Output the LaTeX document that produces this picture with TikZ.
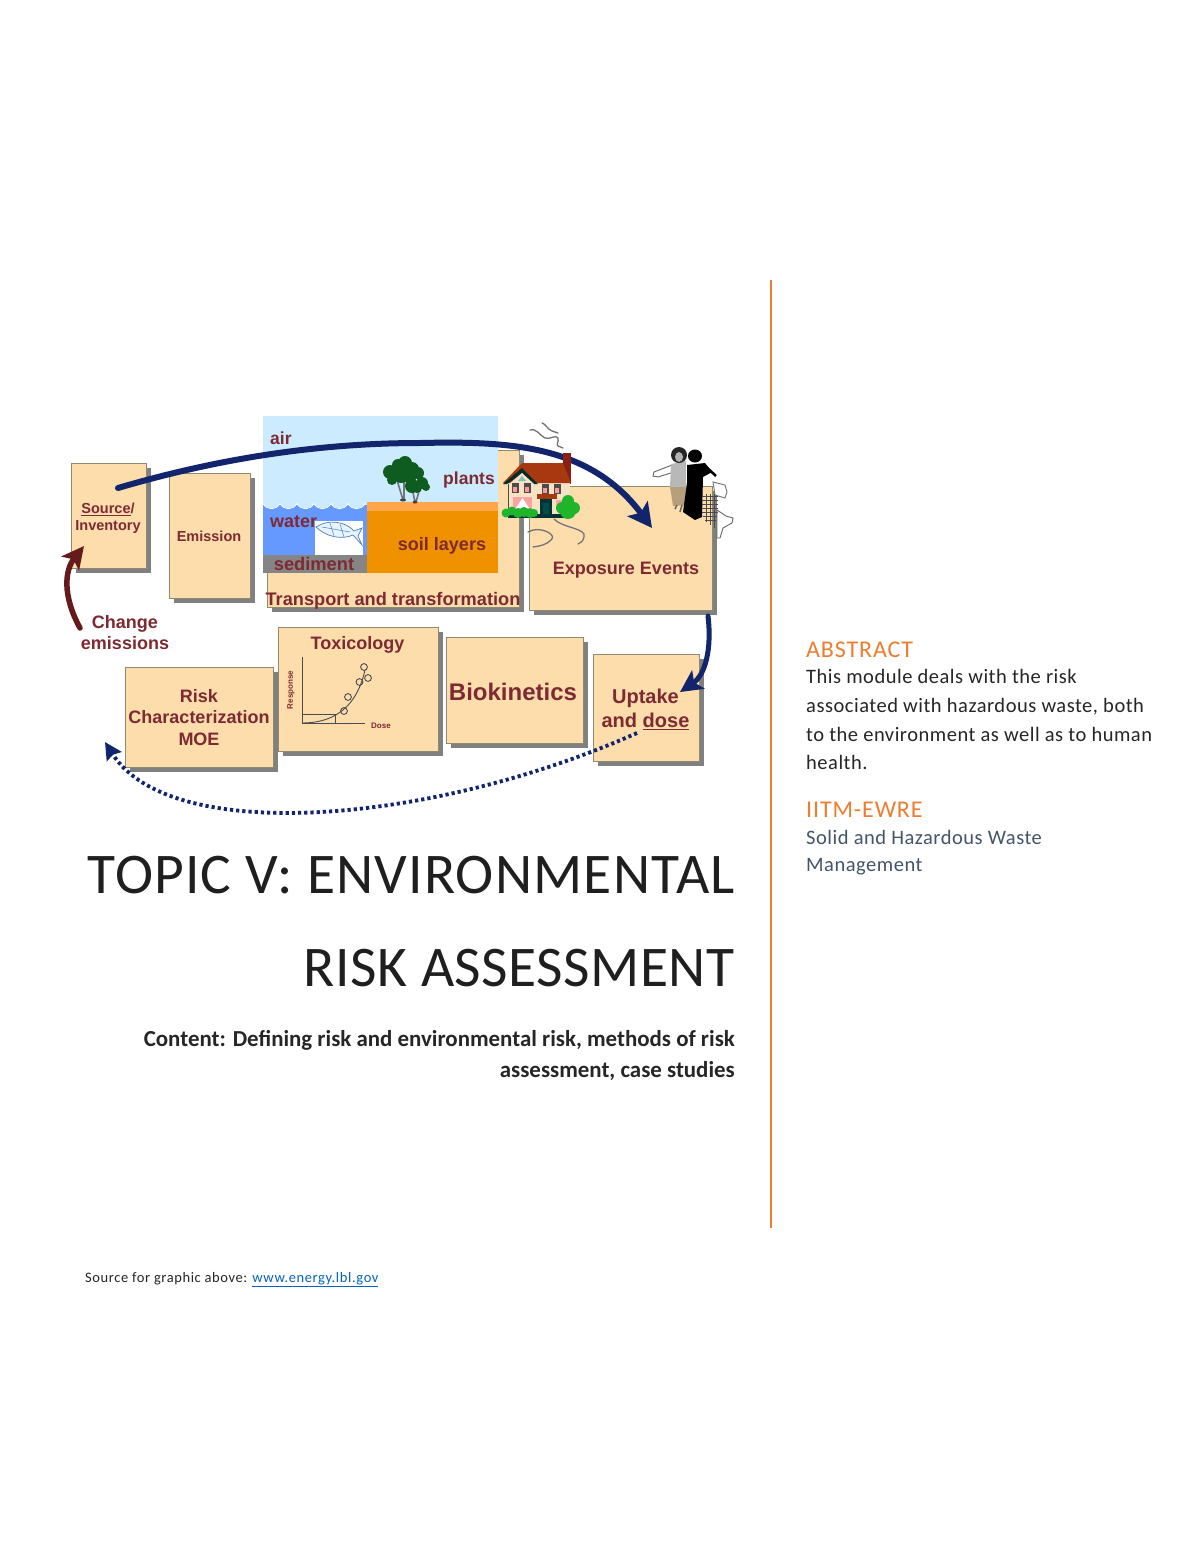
\documentclass[tikz,border=0pt]{standalone}
\usepackage{fontspec}
\setmainfont{Carlito}
\newfontfamily\imgfont{Liberation Sans}
\newfontfamily\cbodyfont[LetterSpace=2.5]{Carlito}
\newfontfamily\cheadfont[LetterSpace=3.6]{Carlito}
\newfontfamily\cnotefont[LetterSpace=4.1]{Carlito}
\newfontfamily\ctitleafont[LetterSpace=2.05]{Carlito}
\newfontfamily\ctitlebfont[LetterSpace=0.95]{Carlito}
\usetikzlibrary{arrows.meta,shadows}
\definecolor{boxfill}{HTML}{FDDDAB}
\definecolor{boxline}{HTML}{8F8A70}
\definecolor{shade}{HTML}{808080}
\definecolor{maroon}{HTML}{7D2A33}
\definecolor{darkred}{HTML}{651A1C}
\definecolor{navy}{HTML}{12246B}
\definecolor{sky}{HTML}{CCEBFF}
\definecolor{waterblue}{HTML}{6699FF}
\definecolor{soil}{HTML}{F09100}
\definecolor{soiltop}{HTML}{FFA64D}
\definecolor{orangeline}{HTML}{ED7D31}
\definecolor{slate}{HTML}{44546A}
\definecolor{linkblue}{HTML}{0563C1}
\definecolor{treegreen}{HTML}{0F5C20}
\definecolor{bushgreen}{HTML}{1FB52A}
\definecolor{roof}{HTML}{A8380F}
\definecolor{chimney}{HTML}{8A1F14}
\definecolor{wall}{HTML}{F7E3C4}
\tikzset{
  x=1pt,y=-1pt,
  imgbox/.style={draw=boxline,line width=1pt,fill=boxfill,inner sep=0pt,align=center,text=maroon,
    general shadow={shadow xshift=5pt,shadow yshift=-5pt,fill=shade}},
  lbl/.style={text=maroon,inner sep=0pt,align=center,font=\imgfont\bfseries\fontsize{#1}{#1}\selectfont\setlength{\baselineskip}{1.18em}},
  lbl/.default=18,
  titlea/.style={anchor=base east,inner sep=0pt,text=black!88,font=\ctitleafont\fontsize{57.5}{60}\selectfont},
  titleb/.style={anchor=base east,inner sep=0pt,text=black!88,font=\ctitlebfont\fontsize{57.5}{60}\selectfont},
  subtitle/.style={anchor=base east,inner sep=0pt,text=black!85,font=\bfseries\fontsize{22.9}{28}\selectfont},
  sidehead/.style={anchor=base west,inner sep=0pt,text=orangeline,font=\cheadfont\fontsize{24}{28}\selectfont},
  sidebody/.style={anchor=base west,inner sep=0pt,text=black!85,font=\cbodyfont\fontsize{20.5}{24}\selectfont},
  sideslate/.style={anchor=base west,inner sep=0pt,text=slate,font=\cbodyfont\fontsize{20.5}{24}\selectfont},
  bigarrow/.style={draw=navy,line width=6pt,line cap=round,-{Stealth[length=24pt,width=25pt,inset=5pt]}},
  midarrow/.style={draw=navy,line width=5pt,line cap=round,-{Stealth[length=22pt,width=22pt,inset=5pt]}},
  redarrow/.style={draw=darkred,line width=5.5pt,line cap=round,-{Stealth[length=22pt,width=22pt,inset=5pt]}},
  dotarrow/.style={draw=navy,line width=3.8pt,dash pattern=on 3.2pt off 3pt,-{Stealth[length=17pt,width=17pt,inset=2pt]}},
  thinblack/.style={draw=black!70,line width=.9pt},
  wiggle/.style={draw=black!55,line width=1.3pt,line cap=round},
}
\begin{document}
\begin{tikzpicture}
\useasboundingbox (0,0) rectangle (1200,1553);
\fill[white] (0,0) rectangle (1200,1553);

% boxes
\node[imgbox,minimum width=75pt,minimum height=105pt] (source) at (108.5,515.5) {};
\node[imgbox,minimum width=81pt,minimum height=125pt] (emission) at (209.5,535.5) {};
\node[imgbox,minimum width=252pt,minimum height=157pt] (transport) at (393,528.5) {};
\node[imgbox,minimum width=183pt,minimum height=124pt] (exposure) at (620.5,548) {};
\node[imgbox,minimum width=148pt,minimum height=100pt] (risk) at (199,717) {};
\node[imgbox,minimum width=160pt,minimum height=124pt] (tox) at (358,689) {};
\node[imgbox,minimum width=137pt,minimum height=106pt] (bio) at (514.5,690) {};
\node[imgbox,minimum width=106pt,minimum height=107pt] (uptake) at (646,707.5) {};

% environment panel
\fill[sky] (263,416) rectangle (498,512);
\fill[soiltop] (367,502) rectangle (498,512);
\fill[soil] (367,511) rectangle (498,573);
\fill[waterblue] (263,505) rectangle (367,556);
\fill[sky] (263,503) rectangle (367,505);
\foreach \wx in {263,280,297,314,331,348} {
  \fill[sky] (\wx,503) .. controls (\wx+4,510) and (\wx+13,510) .. (\wx+17,503) -- cycle;
  \draw[white,line width=.8pt] (\wx,503.5) .. controls (\wx+4,510.5) and (\wx+13,510.5) .. (\wx+17,503.5);
}
\fill[black!48] (263,555) rectangle (367,573);
\fill[white] (315,521) rectangle (363,555);
% fish
\draw[draw=waterblue!80!black,fill=sky!50,line width=.7pt] (316,527) .. controls (328,519) and (345,521) .. (354,531) -- (362,528) -- (358,536) -- (362,545) -- (353,535) .. controls (342,540) and (326,537) .. (316,527) -- cycle;
\draw[draw=waterblue!80!black,line width=.5pt] (322,527) -- (350,532) (330,523) -- (334,536) (340,524) -- (344,537);

% main source arrow
\coordinate (srcstart) at (118,488);
\coordinate (srctop) at (420,443);
\coordinate (exposuretip) at (652,528);
\draw[bigarrow] (srcstart) .. controls (220,458) and (320,443) .. (srctop) .. controls (510,441) and (590,445) .. (exposuretip);

% trees
\draw[black!55,line width=1.6pt] (403,500) -- (397,480) (404,500) -- (404,480) (415,502) -- (412,488) (416,502) -- (420,488);
\fill[black!75] (403,500) ellipse (3 and 1.5) (415,502) ellipse (2.5 and 1.5);
\foreach \tx/\ty/\tr in {390/472/7,398/465/6,405/463/7,412/469/7,392/480/5,401/475/8,410/478/6,418/473/6,412/486/7,422/483/6,426/487/4,417/488/5} {
  \fill[treegreen] (\tx,\ty) circle (\tr);
}

% house
\fill[chimney] (563,453) rectangle (571,484);
\fill[wall] (508,483) rectangle (570,517);
\fill[roof] (503,483) -- (522,463) -- (563,463) -- (571,483) -- cycle;
\fill[black!65!teal] (503,484) -- (522,468) -- (538,484) -- (534,484) -- (522,473) -- (507,484) -- cycle;
\fill[wall] (509,484) -- (522,473) -- (534,484) -- cycle;
\fill[teal!50] (518,481) -- (522,476) -- (526,481) -- cycle;
\draw[black!70,line width=.8pt] (508,484) -- (508,517);
\foreach \wx/\wy in {515/488,527/488,545/489,557/489} { \fill[black!70] (\wx-3.5,\wy-5) rectangle (\wx+3.5,\wy+5); \fill[pink!80!red] (\wx-2,\wy-1) rectangle (\wx+2,\wy+4); }
\fill[pink!85!red] (513,497) rectangle (532,508);
\fill[white] (516,508) -- (522.5,498) -- (529,508) -- cycle;
\fill[pink!85!red] (556,500) rectangle (566,510);
\fill[roof] (537,494) rectangle (557,499);
\fill[black!60!teal] (540,499) rectangle (552,518);
\fill[teal!60!black] (543,503) rectangle (549,518);
\fill[black!60!teal] (508,514) rectangle (570,518);
\foreach \bx/\by/\br in {506/513/4.5,512/511/4.5,518/513/5,524/512/5,530/513/5,534/513/4} { \fill[bushgreen] (\bx,\by) circle (\br); }
\foreach \bx/\by/\br in {568/501/6,562/508/6,574/508/6,568/511/8} { \fill[bushgreen] (\bx,\by) circle (\br); }
% smoke and paths
\draw[wiggle] (530,430) .. controls (537,428) and (540,436) .. (545,438) .. controls (550,440) and (556,434) .. (558,438) .. controls (559,442) and (556,444) .. (558,446) -- (563,448);
\draw[wiggle] (542,423) .. controls (546,424) and (547,429) .. (552,431) -- (558,433);
\draw[wiggle] (528,532) .. controls (540,525) and (558,535) .. (551,540) .. controls (546,545) and (540,546) .. (533,547);
\draw[wiggle] (554,519) .. controls (562,528) and (587,528) .. (584,537) .. controls (583,541) and (581,543) .. (578,544);

% people
\draw[black!60,fill=white,line width=.9pt] (672,465) -- (654,472) -- (653,476) -- (658,477) -- (674,472) -- cycle;
\fill[black!28] (671,464) -- (686,461) -- (686,488) -- (670,488) -- cycle;
\fill[boxfill!72!black] (670,487) -- (686,487) -- (686,505) -- (673,506) -- cycle;
\draw[black!60,line width=1.5pt] (677,505) -- (675,509) (682,505) -- (680,512);
\fill[black!85] (679,455) ellipse (8 and 8);
\fill[black!30] (679,457) ellipse (4 and 5);
\fill[black] (687,465) -- (705,463) -- (712,472) -- (703,477) -- (702,517) -- (695,520) -- (683,512) -- (687,483) -- cycle;
\fill[black] (695,456) ellipse (7 and 6.5);
\draw[black,line width=2.5pt] (704,465) -- (716,476);
\draw[black!55,fill=white,line width=.9pt] (713,482) -- (725,485) -- (727,492) -- (725,498) -- (715,495) -- cycle;
\draw[black!60,fill=white,line width=.9pt] (717,510) -- (726,516) -- (733,518) -- (732,523) -- (723,528) -- (720,538) -- (717,538) -- cycle;
\draw[black!70,line width=.9pt] (702,496) -- (718,496) (702,500) -- (718,500) (702,504) -- (718,504) (702,508) -- (718,508) (702,512) -- (718,512) (703,516) -- (717,516) (705,520) -- (716,520) (706,494) -- (706,522) (710,494) -- (710,525) (714,494) -- (714,528);

% toxicology graph
\coordinate (axisO) at (302,723);
\coordinate (axisY) at (302,657);
\coordinate (axisX) at (365,723);
\draw[thinblack] (axisY) -- (axisO) -- (axisX);
\draw[thinblack] (axisO) .. controls (325,723) and (355,715) .. (365,670);
\draw[thinblack] (302,714) -- (335,714) -- (335,723);
\foreach \cx/\cy in {364/667,368/678,359.5/682,348/697,344/711} { \draw[thinblack] (\cx,\cy) circle (3.4); }
\node[lbl=8,rotate=90] (resp) at (291,690) {Response};
\node[lbl=8] (dose) at (381,725.5) {Dose};

% image labels
\node[lbl=14.5] (sourcelabel) at (108,518.5) {\underline{Source}/\\Inventory};
\node[lbl=14.5] (emissionlabel) at (209,536) {Emission};
\node[lbl=17.5,anchor=base west] (airlabel) at (270,444.5) {air};
\node[lbl=18,anchor=base west] (waterlabel) at (270,527) {water};
\node[lbl=17.5] (plantslabel) at (469,479.5) {plants};
\node[lbl=18] (soillabel) at (442,546) {soil layers};
\node[lbl=18.3] (sedimentlabel) at (314,564) {sediment};
\node[lbl=18.2] (transportlabel) at (393,600.5) {Transport and transformation};
\node[lbl=18] (exposurelabel) at (626,570.5) {Exposure Events};
\node[lbl=18] (changelabel) at (125,632.5) {Change\\emissions};
\node[lbl=18] (toxlabel) at (357.5,644.5) {Toxicology};
\node[lbl=18] (risklabel) at (199,717.5) {Risk\\Characterization\\MOE};
\node[lbl=24] (biolabel) at (513,691.5) {Biokinetics};
\node[lbl=20] (uptakelabel) at (645.5,709.5) {Uptake\\and \underline{dose}};

% other arrows
\coordinate (changestart) at (80,628);
\coordinate (changetip) at (84,546);
\draw[redarrow] (changestart) .. controls (62,595) and (65,570) .. (changetip);
\coordinate (uptakestart) at (708,616);
\coordinate (uptaketip) at (680,692);
\draw[midarrow] (uptakestart) .. controls (712,650) and (705,675) .. (uptaketip);
\coordinate (dotstart) at (637,733);
\coordinate (dottip) at (105,742);
\draw[dotarrow] (dotstart) .. controls (430,825) and (170,845) .. (dottip);

% page text
\node[titlea] (t1) at (735,893) {TOPIC V: ENVIRONMENTAL};
\node[titleb] (t2) at (735,986) {RISK ASSESSMENT};
\node[subtitle] (s1) at (735,1046) {Content: Defining risk and environmental risk, methods of risk};
\node[subtitle] (s2) at (735,1077) {assessment, case studies};
\node[anchor=base west,inner sep=0pt,text=black!85,font=\cnotefont\fontsize{14.5}{17}\selectfont] (srcnote) at (85,1282) {Source for graphic above: \textcolor{linkblue}{\underline{www.energy.lbl.gov}}};

\coordinate (ruletop) at (771,280);
\coordinate (rulebot) at (771,1228);
\draw[orangeline,line width=2.6pt] (ruletop) -- (rulebot);

\node[sidehead] (abshead) at (806,657) {ABSTRACT};
\node[sidebody] (a1) at (806,683) {This module deals with the risk};
\node[sidebody] (a2) at (806,712) {associated with hazardous waste, both};
\node[sidebody] (a3) at (806,741) {to the environment as well as to human};
\node[sidebody] (a4) at (806,769) {health.};
\node[sidehead] (iitm) at (806,817) {IITM-EWRE};
\node[sideslate] (m1) at (806,844) {Solid and Hazardous Waste};
\node[sideslate] (m2) at (806,871) {Management};
\end{tikzpicture}
\end{document}
